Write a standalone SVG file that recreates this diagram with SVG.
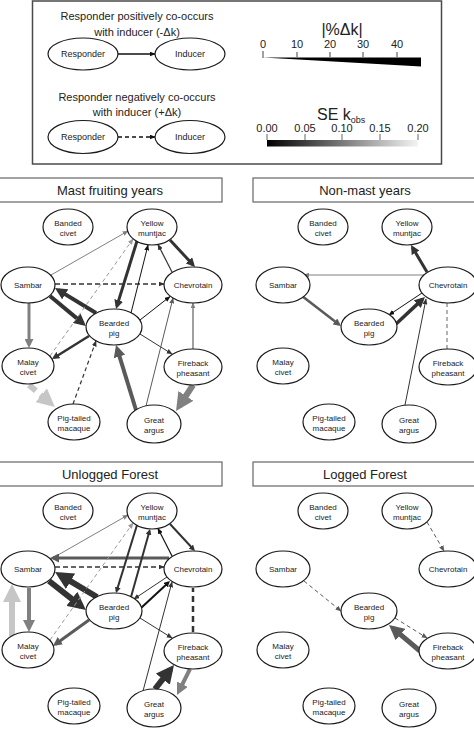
<svg xmlns="http://www.w3.org/2000/svg" width="474" height="740" viewBox="0 0 474 740">
<style>
text{font-family:"Liberation Sans",Arial,sans-serif;fill:#222}
.n ellipse{fill:#fff;stroke:#1a1a1a;stroke-width:1.2}
.n text{font-size:8px;text-anchor:middle}
.lg text{font-size:11px;text-anchor:middle}
.lg .nl{font-size:9px}
.tk{font-size:10px;text-anchor:middle}
.tb rect{fill:#fff;stroke:#666;stroke-width:1.2}
.tb text{font-size:13px;text-anchor:middle}
.e{fill:none;stroke-linecap:butt}
.k{stroke:#111}.d{stroke:#333}.m{stroke:#5a5a5a}.g{stroke:#808080}.l{stroke:#9a9a9a}.v{stroke:#c6c6c6}
.ds{stroke-dasharray:4 3}
</style>
<defs>
<linearGradient id="se" x1="0" y1="0" x2="1" y2="0"><stop offset="0" stop-color="#000"/><stop offset="1" stop-color="#f4f4f4"/></linearGradient>
<marker id="h-k" viewBox="0 0 10 10" refX="6.7" refY="5" markerWidth="3" markerHeight="3" orient="auto"><path d="M0,0L10,5L0,10z" fill="#111"/></marker>
<marker id="h-d" viewBox="0 0 10 10" refX="6.7" refY="5" markerWidth="3" markerHeight="3" orient="auto"><path d="M0,0L10,5L0,10z" fill="#333"/></marker>
<marker id="h-m" viewBox="0 0 10 10" refX="6.7" refY="5" markerWidth="3" markerHeight="3" orient="auto"><path d="M0,0L10,5L0,10z" fill="#5a5a5a"/></marker>
<marker id="h-g" viewBox="0 0 10 10" refX="6.7" refY="5" markerWidth="3" markerHeight="3" orient="auto"><path d="M0,0L10,5L0,10z" fill="#808080"/></marker>
<marker id="h-v" viewBox="0 0 10 10" refX="6.7" refY="5" markerWidth="3" markerHeight="3" orient="auto"><path d="M0,0L10,5L0,10z" fill="#c6c6c6"/></marker>
<marker id="t-k" viewBox="0 0 10 10" refX="9" refY="5" markerWidth="6" markerHeight="5" markerUnits="userSpaceOnUse" preserveAspectRatio="none" orient="auto"><path d="M0,0L10,5L0,10z" fill="#111"/></marker>
<marker id="t-d" viewBox="0 0 10 10" refX="9" refY="5" markerWidth="6" markerHeight="5" markerUnits="userSpaceOnUse" preserveAspectRatio="none" orient="auto"><path d="M0,0L10,5L0,10z" fill="#333"/></marker>
<marker id="t-m" viewBox="0 0 10 10" refX="9" refY="5" markerWidth="6" markerHeight="5" markerUnits="userSpaceOnUse" preserveAspectRatio="none" orient="auto"><path d="M0,0L10,5L0,10z" fill="#5a5a5a"/></marker>
<marker id="t-g" viewBox="0 0 10 10" refX="9" refY="5" markerWidth="6" markerHeight="5" markerUnits="userSpaceOnUse" preserveAspectRatio="none" orient="auto"><path d="M0,0L10,5L0,10z" fill="#808080"/></marker>
<marker id="t-l" viewBox="0 0 10 10" refX="9" refY="5" markerWidth="6" markerHeight="5" markerUnits="userSpaceOnUse" preserveAspectRatio="none" orient="auto"><path d="M0,0L10,5L0,10z" fill="#9a9a9a"/></marker>
</defs>
<rect width="474" height="740" fill="#fff"/>

<g id="legend" class="lg">
<rect x="32.5" y="1" width="409" height="163" fill="#fff" stroke="#4a4a4a" stroke-width="1.5"/>
<text x="137" y="20">Responder positively co-occurs</text>
<text x="137" y="36">with inducer (-Δk)</text>
<text x="137" y="101">Responder negatively co-occurs</text>
<text x="137" y="116">with inducer (+Δk)</text>
<g id="legend-connectors">
<line class="e k" x1="118" y1="54" x2="155" y2="54" stroke-width="1.5" marker-end="url(#t-k)"/>
<line class="e k ds" x1="118" y1="137" x2="155" y2="137" stroke-width="1.5" marker-end="url(#t-k)"/>
</g>
<g id="legend-responder1" class="n"><ellipse cx="83" cy="54" rx="35" ry="16"/><text class="nl" x="83" y="57">Responder</text></g>
<g id="legend-inducer1" class="n"><ellipse cx="190" cy="54" rx="35" ry="16"/><text class="nl" x="190" y="57">Inducer</text></g>
<g id="legend-responder2" class="n"><ellipse cx="83" cy="137" rx="35" ry="16.5"/><text class="nl" x="83" y="140">Responder</text></g>
<g id="legend-inducer2" class="n"><ellipse cx="190" cy="137" rx="35" ry="16.5"/><text class="nl" x="190" y="140">Inducer</text></g>
<text x="342" y="35" style="font-size:16px">|%Δk|</text>
<g class="tk">
<text x="263" y="48">0</text><text x="297" y="48">10</text><text x="330" y="48">20</text><text x="363" y="48">30</text><text x="397" y="48">40</text>
</g>
<g stroke="#444" stroke-width="1">
<line x1="263" y1="51" x2="263" y2="58"/><line x1="297" y1="52" x2="297" y2="57"/><line x1="330" y1="52" x2="330" y2="57"/><line x1="363" y1="52" x2="363" y2="57"/><line x1="397" y1="52" x2="397" y2="57"/>
</g>
<polygon points="263,57.5 421,57.5 421,66.5" fill="#000"/>
<text x="317" y="120" style="font-size:16px;text-anchor:start">SE k<tspan style="font-size:9px" dy="2.5">obs</tspan></text>
<g class="tk">
<text x="267" y="132">0.00</text><text x="305" y="132">0.05</text><text x="342" y="132">0.10</text><text x="380" y="132">0.15</text><text x="418" y="132">0.20</text>
</g>
<g stroke="#666" stroke-width="1">
<line x1="267" y1="134" x2="267" y2="140"/><line x1="305" y1="134" x2="305" y2="140"/><line x1="342" y1="134" x2="342" y2="140"/><line x1="380" y1="134" x2="380" y2="140"/><line x1="418" y1="134" x2="418" y2="140"/>
</g>
<rect x="267" y="140" width="151" height="6.5" fill="url(#se)"/>
</g>

<!-- Mast fruiting years -->
<g id="panel-mast">
<g class="tb" id="mast-title"><rect x="-2" y="178" width="224" height="24"/><text x="110" y="195">Mast fruiting years</text></g>
<g id="mast-connectors">
<line class="e g" x1="51" y1="275" x2="128" y2="231" stroke-width="1" marker-end="url(#t-g)"/>
<line class="e d" x1="55" y1="284" x2="164" y2="284" stroke-width="1.5" stroke-dasharray="5 3" marker-end="url(#t-d)"/>
<line class="e d" x1="96" y1="313" x2="58.4" y2="290.1" stroke-width="4" marker-end="url(#h-d)"/>
<line class="e d" x1="50" y1="296" x2="82.9" y2="323.4" stroke-width="4" marker-end="url(#h-d)"/>
<line class="e g" x1="29" y1="303" x2="29" y2="345" stroke-width="3" marker-end="url(#h-g)"/>
<line class="e l ds" x1="50" y1="356" x2="133" y2="239" stroke-width="1" marker-end="url(#t-l)"/>
<line class="e d" x1="89" y1="336" x2="54.1" y2="357.7" stroke-width="2.5" marker-end="url(#h-d)"/>
<line class="e d ds" x1="73" y1="404" x2="96" y2="341" stroke-width="1.2" marker-end="url(#t-d)"/>
<line class="e v" x1="29" y1="385" x2="50.4" y2="403.1" stroke-width="6" stroke-dasharray="9 6" marker-end="url(#h-v)"/>
<line class="e d" x1="137" y1="241" x2="116.9" y2="306.1" stroke-width="3" marker-end="url(#h-d)"/>
<line class="e k" x1="131" y1="313" x2="148" y2="245" stroke-width="1" marker-end="url(#t-k)"/>
<line class="e d" x1="172" y1="272" x2="158" y2="244.5" stroke-width="1.2" marker-end="url(#t-d)"/>
<line class="e d" x1="170" y1="240" x2="193" y2="264.8" stroke-width="3" marker-end="url(#h-d)"/>
<line class="e k" x1="140" y1="320" x2="170" y2="296.5" stroke-width="1" marker-end="url(#t-k)"/>
<line class="e d" x1="140" y1="334" x2="172" y2="354" stroke-width="1" marker-end="url(#t-d)"/>
<line class="e g" x1="193" y1="349" x2="193" y2="303" stroke-width="1.5" marker-end="url(#t-g)"/>
<line class="e m" x1="136" y1="410" x2="117.2" y2="348.8" stroke-width="4" marker-end="url(#h-m)"/>
<line class="e m" x1="146" y1="406" x2="173" y2="298" stroke-width="1" marker-end="url(#t-m)"/>
<line class="e g" x1="193" y1="385" x2="179.3" y2="406" stroke-width="6" marker-end="url(#h-g)"/>
</g>
<g id="mast-banded-civet" class="n"><ellipse cx="68" cy="227" rx="25" ry="18"/><text x="68" y="226"><tspan x="68">Banded</tspan><tspan x="68" dy="10">civet</tspan></text></g>
<g id="mast-yellow-muntjac" class="n"><ellipse cx="152" cy="227" rx="25" ry="18"/><text x="152" y="226"><tspan x="152">Yellow</tspan><tspan x="152" dy="10">muntjac</tspan></text></g>
<g id="mast-sambar" class="n"><ellipse cx="28" cy="285" rx="27" ry="18"/><text x="28" y="288">Sambar</text></g>
<g id="mast-chevrotain" class="n"><ellipse cx="193" cy="285" rx="29" ry="18"/><text x="193" y="288">Chevrotain</text></g>
<g id="mast-bearded-pig" class="n"><ellipse cx="114" cy="327" rx="28" ry="18"/><text x="114" y="326"><tspan x="114">Bearded</tspan><tspan x="114" dy="10">pig</tspan></text></g>
<g id="mast-malay-civet" class="n"><ellipse cx="28" cy="366" rx="26" ry="18"/><text x="28" y="365"><tspan x="28">Malay</tspan><tspan x="28" dy="10">civet</tspan></text></g>
<g id="mast-fireback-pheasant" class="n"><ellipse cx="193" cy="367" rx="29" ry="18"/><text x="193" y="366"><tspan x="193">Fireback</tspan><tspan x="193" dy="10">pheasant</tspan></text></g>
<g id="mast-pig-tailed-macaque" class="n"><ellipse cx="74" cy="422" rx="26" ry="18"/><text x="74" y="421"><tspan x="74">Pig-tailed</tspan><tspan x="74" dy="10">macaque</tspan></text></g>
<g id="mast-great-argus" class="n"><ellipse cx="154" cy="424" rx="27" ry="19"/><text x="154" y="423"><tspan x="154">Great</tspan><tspan x="154" dy="10">argus</tspan></text></g>
</g>

<!-- Non-mast years -->
<g id="panel-nonmast" transform="translate(255,0)">
<g class="tb" id="nonmast-title"><rect x="-2" y="178" width="224" height="24"/><text x="110" y="195">Non-mast years</text></g>
<g id="nonmast-connectors">
<line class="e g" x1="169" y1="275" x2="49" y2="275" stroke-width="1.2" marker-end="url(#t-g)"/>
<line class="e m" x1="47" y1="296" x2="84" y2="324.5" stroke-width="2.5" marker-end="url(#h-m)"/>
<line class="e d" x1="172" y1="272" x2="157.5" y2="247.6" stroke-width="3" marker-end="url(#h-d)"/>
<line class="e k" x1="167" y1="293" x2="134" y2="315" stroke-width="1" marker-end="url(#t-k)"/>
<line class="e d" x1="141" y1="324" x2="167.4" y2="299.4" stroke-width="3.5" marker-end="url(#h-d)"/>
<line class="e d" x1="150" y1="405" x2="171" y2="299" stroke-width="1" marker-end="url(#t-d)"/>
<line class="e g ds" x1="192" y1="349" x2="192" y2="303" stroke-width="1.2"/>
</g>
<g id="nonmast-banded-civet" class="n"><ellipse cx="68" cy="227" rx="25" ry="18"/><text x="68" y="226"><tspan x="68">Banded</tspan><tspan x="68" dy="10">civet</tspan></text></g>
<g id="nonmast-yellow-muntjac" class="n"><ellipse cx="152" cy="227" rx="25" ry="18"/><text x="152" y="226"><tspan x="152">Yellow</tspan><tspan x="152" dy="10">muntjac</tspan></text></g>
<g id="nonmast-sambar" class="n"><ellipse cx="28" cy="285" rx="27" ry="18"/><text x="28" y="288">Sambar</text></g>
<g id="nonmast-chevrotain" class="n"><ellipse cx="193" cy="285" rx="29" ry="18"/><text x="193" y="288">Chevrotain</text></g>
<g id="nonmast-bearded-pig" class="n"><ellipse cx="114" cy="327" rx="28" ry="18"/><text x="114" y="326"><tspan x="114">Bearded</tspan><tspan x="114" dy="10">pig</tspan></text></g>
<g id="nonmast-malay-civet" class="n"><ellipse cx="28" cy="366" rx="26" ry="18"/><text x="28" y="365"><tspan x="28">Malay</tspan><tspan x="28" dy="10">civet</tspan></text></g>
<g id="nonmast-fireback-pheasant" class="n"><ellipse cx="193" cy="367" rx="29" ry="18"/><text x="193" y="366"><tspan x="193">Fireback</tspan><tspan x="193" dy="10">pheasant</tspan></text></g>
<g id="nonmast-pig-tailed-macaque" class="n"><ellipse cx="74" cy="422" rx="26" ry="18"/><text x="74" y="421"><tspan x="74">Pig-tailed</tspan><tspan x="74" dy="10">macaque</tspan></text></g>
<g id="nonmast-great-argus" class="n"><ellipse cx="154" cy="424" rx="27" ry="19"/><text x="154" y="423"><tspan x="154">Great</tspan><tspan x="154" dy="10">argus</tspan></text></g>
</g>

<!-- Unlogged Forest -->
<g id="panel-unlogged" transform="translate(0,284)">
<g class="tb" id="unlogged-title"><rect x="-2" y="178" width="224" height="24"/><text x="110" y="195">Unlogged Forest</text></g>
<g id="unlogged-connectors">
<line class="e g" x1="51" y1="275" x2="128" y2="231" stroke-width="1" marker-end="url(#t-g)"/>
<line class="e m" x1="169" y1="274" x2="53" y2="274" stroke-width="3" marker-end="url(#h-m)"/>
<line class="e d" x1="55" y1="283" x2="164" y2="283" stroke-width="1.5" stroke-dasharray="5 3" marker-end="url(#t-d)"/>
<line class="e d" x1="97" y1="313" x2="60.2" y2="291.1" stroke-width="6" marker-end="url(#h-d)"/>
<line class="e d" x1="49" y1="297" x2="81.3" y2="322.3" stroke-width="6" marker-end="url(#h-d)"/>
<line class="e g" x1="29" y1="304" x2="29" y2="344" stroke-width="4" marker-end="url(#h-g)"/>
<line class="e v" x1="12" y1="352" x2="12" y2="306" stroke-width="6" marker-end="url(#h-v)"/>
<line class="e l ds" x1="50" y1="356" x2="133" y2="239" stroke-width="1" marker-end="url(#t-l)"/>
<line class="e m" x1="89" y1="336" x2="55.4" y2="360.2" stroke-width="3" marker-end="url(#h-m)"/>
<line class="e d" x1="137" y1="241" x2="116.6" y2="307.1" stroke-width="2" marker-end="url(#h-d)"/>
<line class="e d" x1="131" y1="313" x2="149.5" y2="246.9" stroke-width="2" marker-end="url(#h-d)"/>
<line class="e k" x1="172" y1="272" x2="158" y2="244.5" stroke-width="1.2" marker-end="url(#t-k)"/>
<line class="e d" x1="170" y1="240" x2="193.6" y2="265.5" stroke-width="2" marker-end="url(#h-d)"/>
<line class="e d" x1="167" y1="293" x2="134" y2="315" stroke-width="1" marker-end="url(#t-d)"/>
<line class="e k" x1="141" y1="324" x2="168.5" y2="298.4" stroke-width="2" marker-end="url(#h-k)"/>
<line class="e d" x1="140" y1="334" x2="172" y2="354" stroke-width="1" marker-end="url(#t-d)"/>
<line class="e d" x1="193" y1="348" x2="193" y2="304" stroke-width="2.5" stroke-dasharray="6 4"/>
<line class="e d" x1="143" y1="407" x2="172" y2="298" stroke-width="1" marker-end="url(#t-d)"/>
<line class="e d" x1="155" y1="405" x2="170.3" y2="385.7" stroke-width="6" marker-end="url(#h-d)"/>
<line class="e g" x1="190" y1="385" x2="178.8" y2="407.4" stroke-width="4" marker-end="url(#h-g)"/>
</g>
<g id="unlogged-banded-civet" class="n"><ellipse cx="68" cy="227" rx="25" ry="18"/><text x="68" y="226"><tspan x="68">Banded</tspan><tspan x="68" dy="10">civet</tspan></text></g>
<g id="unlogged-yellow-muntjac" class="n"><ellipse cx="152" cy="227" rx="25" ry="18"/><text x="152" y="226"><tspan x="152">Yellow</tspan><tspan x="152" dy="10">muntjac</tspan></text></g>
<g id="unlogged-sambar" class="n"><ellipse cx="28" cy="285" rx="27" ry="18"/><text x="28" y="288">Sambar</text></g>
<g id="unlogged-chevrotain" class="n"><ellipse cx="193" cy="285" rx="29" ry="18"/><text x="193" y="288">Chevrotain</text></g>
<g id="unlogged-bearded-pig" class="n"><ellipse cx="114" cy="327" rx="28" ry="18"/><text x="114" y="326"><tspan x="114">Bearded</tspan><tspan x="114" dy="10">pig</tspan></text></g>
<g id="unlogged-malay-civet" class="n"><ellipse cx="28" cy="366" rx="26" ry="18"/><text x="28" y="365"><tspan x="28">Malay</tspan><tspan x="28" dy="10">civet</tspan></text></g>
<g id="unlogged-fireback-pheasant" class="n"><ellipse cx="193" cy="367" rx="29" ry="18"/><text x="193" y="366"><tspan x="193">Fireback</tspan><tspan x="193" dy="10">pheasant</tspan></text></g>
<g id="unlogged-pig-tailed-macaque" class="n"><ellipse cx="74" cy="422" rx="26" ry="18"/><text x="74" y="421"><tspan x="74">Pig-tailed</tspan><tspan x="74" dy="10">macaque</tspan></text></g>
<g id="unlogged-great-argus" class="n"><ellipse cx="154" cy="424" rx="27" ry="19"/><text x="154" y="423"><tspan x="154">Great</tspan><tspan x="154" dy="10">argus</tspan></text></g>
</g>

<!-- Logged Forest -->
<g id="panel-logged" transform="translate(255,284)">
<g class="tb" id="logged-title"><rect x="-2" y="178" width="224" height="24"/><text x="110" y="195">Logged Forest</text></g>
<g id="logged-connectors">
<line class="e m ds" x1="172" y1="238" x2="189" y2="267" stroke-width="1" marker-end="url(#t-m)"/>
<line class="e m ds" x1="49" y1="297" x2="86" y2="327" stroke-width="1" marker-end="url(#t-m)"/>
<line class="e m ds" x1="140" y1="334" x2="172" y2="354" stroke-width="1" marker-end="url(#t-m)"/>
<line class="e m" x1="165" y1="367" x2="137.8" y2="344.2" stroke-width="5" marker-end="url(#h-m)"/>
</g>
<g id="logged-banded-civet" class="n"><ellipse cx="68" cy="227" rx="25" ry="18"/><text x="68" y="226"><tspan x="68">Banded</tspan><tspan x="68" dy="10">civet</tspan></text></g>
<g id="logged-yellow-muntjac" class="n"><ellipse cx="152" cy="227" rx="25" ry="18"/><text x="152" y="226"><tspan x="152">Yellow</tspan><tspan x="152" dy="10">muntjac</tspan></text></g>
<g id="logged-sambar" class="n"><ellipse cx="28" cy="285" rx="27" ry="18"/><text x="28" y="288">Sambar</text></g>
<g id="logged-chevrotain" class="n"><ellipse cx="193" cy="285" rx="29" ry="18"/><text x="193" y="288">Chevrotain</text></g>
<g id="logged-bearded-pig" class="n"><ellipse cx="114" cy="327" rx="28" ry="18"/><text x="114" y="326"><tspan x="114">Bearded</tspan><tspan x="114" dy="10">pig</tspan></text></g>
<g id="logged-malay-civet" class="n"><ellipse cx="28" cy="366" rx="26" ry="18"/><text x="28" y="365"><tspan x="28">Malay</tspan><tspan x="28" dy="10">civet</tspan></text></g>
<g id="logged-fireback-pheasant" class="n"><ellipse cx="193" cy="367" rx="29" ry="18"/><text x="193" y="366"><tspan x="193">Fireback</tspan><tspan x="193" dy="10">pheasant</tspan></text></g>
<g id="logged-pig-tailed-macaque" class="n"><ellipse cx="74" cy="422" rx="26" ry="18"/><text x="74" y="421"><tspan x="74">Pig-tailed</tspan><tspan x="74" dy="10">macaque</tspan></text></g>
<g id="logged-great-argus" class="n"><ellipse cx="154" cy="424" rx="27" ry="19"/><text x="154" y="423"><tspan x="154">Great</tspan><tspan x="154" dy="10">argus</tspan></text></g>
</g>
</svg>
